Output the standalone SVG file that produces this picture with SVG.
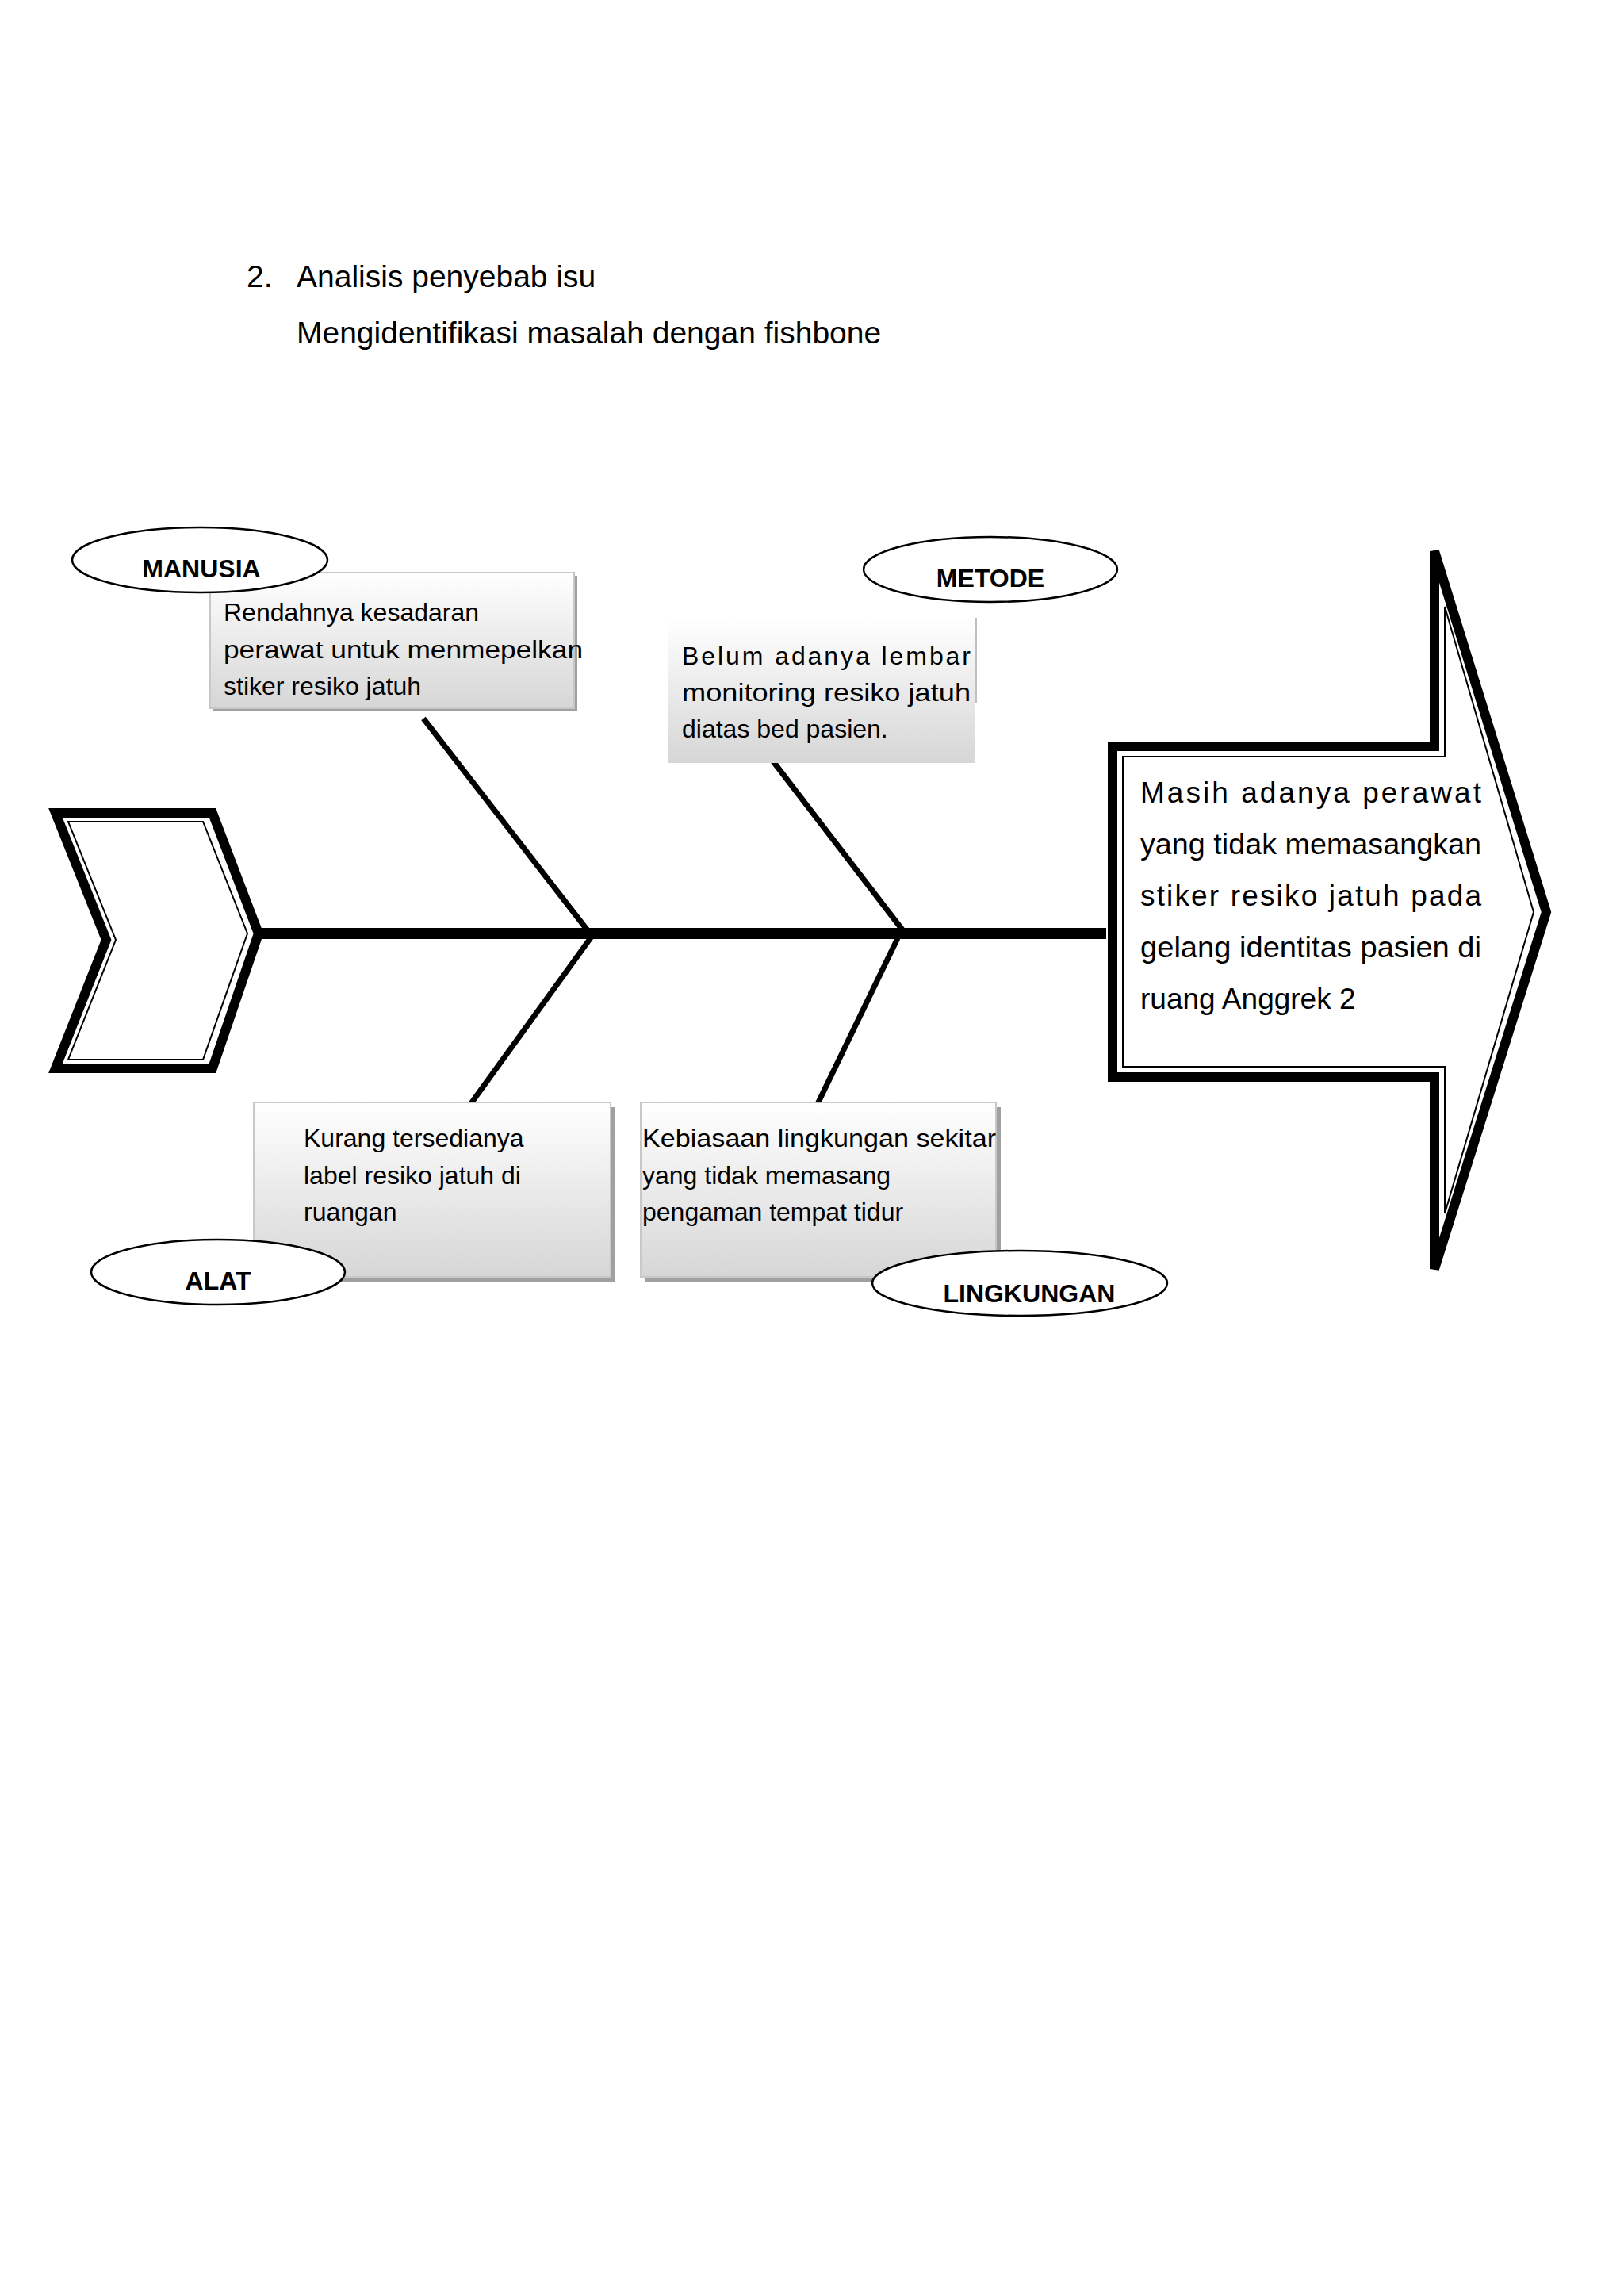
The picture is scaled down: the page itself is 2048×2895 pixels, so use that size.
<svg xmlns="http://www.w3.org/2000/svg" width="2048" height="2895" viewBox="0 0 2048 2895">
<defs>
<linearGradient id="g" x1="0" y1="0" x2="0" y2="1"><stop offset="0" stop-color="#ffffff"/><stop offset="1" stop-color="#d6d6d6"/></linearGradient>
</defs>
<style>
.t{font-family:"Liberation Sans",Arial,sans-serif;font-size:32px;fill:#000}
.h{font-family:"Liberation Sans",Arial,sans-serif;font-size:39px;fill:#000}
.b{font-family:"Liberation Sans",Arial,sans-serif;font-size:32px;font-weight:bold;fill:#000;text-anchor:middle}
.a{font-family:"Liberation Sans",Arial,sans-serif;font-size:37px;fill:#000}
.box{fill:url(#g);stroke:#c8c8c8;stroke-width:2}
.sh{fill:#a0a0a0}
.el{fill:#fff;stroke:#000;stroke-width:2.5}
.bone{stroke:#000;stroke-width:7;fill:none}
</style>
<rect width="2048" height="2895" fill="#fff"/>
<text class="h" x="311" y="362">2.</text>
<text class="h" x="374" y="362">Analisis penyebab isu</text>
<text class="h" x="374" y="433">Mengidentifikasi masalah dengan fishbone</text>
<g id="connectors">
<line x1="325" y1="1177" x2="1395" y2="1177" stroke="#000" stroke-width="14"/>
<line class="bone" x1="534" y1="906" x2="744" y2="1177"/>
<line class="bone" x1="746" y1="1181" x2="592" y2="1394"/>
<line class="bone" x1="975" y1="960" x2="1140" y2="1175"/>
<line class="bone" x1="1132" y1="1183" x2="1030" y2="1394"/>
</g>
<g id="tail">
<polygon points="70,1025 268,1025 326,1177 268,1347 70,1347 134,1185" fill="#fff" stroke="#000" stroke-width="12" stroke-linejoin="miter"/>
<polygon points="86,1036 256,1036 312,1177 256,1336 86,1336 146,1185" fill="none" stroke="#000" stroke-width="2"/>
</g>
<g id="effect">
<polygon points="1403,941 1809,941 1809,695 1950,1150 1809,1600 1809,1358 1403,1358" fill="#fff" stroke="#000" stroke-width="12"/>
<polygon points="1416,954 1822,954 1822,765 1934,1150 1822,1530 1822,1345 1416,1345" fill="none" stroke="#000" stroke-width="2"/>
<text class="a" x="1438" y="1012" textLength="430" lengthAdjust="spacing">Masih   adanya   perawat</text>
<text class="a" x="1438" y="1077" textLength="430" lengthAdjust="spacingAndGlyphs">yang tidak memasangkan</text>
<text class="a" x="1438" y="1142" textLength="430" lengthAdjust="spacing">stiker  resiko  jatuh  pada</text>
<text class="a" x="1438" y="1207" textLength="430" lengthAdjust="spacingAndGlyphs">gelang identitas pasien di</text>
<text class="a" x="1438" y="1272">ruang Anggrek 2</text>
</g>
<g id="manusia">
<rect class="sh" x="269" y="726" width="459" height="171"/>
<rect class="box" x="265" y="722" width="459" height="171"/>
<text class="t" x="282" y="783">Rendahnya kesadaran</text>
<text class="t" x="282" y="830" textLength="453" lengthAdjust="spacingAndGlyphs">perawat untuk menmepelkan</text>
<text class="t" x="282" y="876">stiker resiko jatuh</text>
<ellipse class="el" cx="252" cy="706" rx="161" ry="41"/>
<text class="b" x="254" y="728">MANUSIA</text>
</g>
<g id="metode">
<rect x="842" y="779" width="388" height="183" fill="url(#g)"/>
<line x1="1231" y1="779" x2="1231" y2="886" stroke="#c0c0c0" stroke-width="2"/>
<text class="t" x="860" y="838" textLength="364" lengthAdjust="spacing">Belum   adanya   lembar</text>
<text class="t" x="860" y="884" textLength="364" lengthAdjust="spacingAndGlyphs">monitoring resiko jatuh</text>
<text class="t" x="860" y="930">diatas bed pasien.</text>
<ellipse class="el" cx="1249" cy="718" rx="160" ry="41"/>
<text class="b" x="1249" y="740">METODE</text>
</g>
<g id="alat">
<rect class="sh" x="326" y="1396" width="450" height="220"/>
<rect class="box" x="320" y="1390" width="450" height="220"/>
<text class="t" x="383" y="1446">Kurang tersedianya</text>
<text class="t" x="383" y="1493">label resiko jatuh di</text>
<text class="t" x="383" y="1539">ruangan</text>
<ellipse class="el" cx="275" cy="1604" rx="160" ry="41"/>
<text class="b" x="275" y="1626">ALAT</text>
</g>
<g id="lingkungan">
<rect class="sh" x="814" y="1396" width="448" height="220"/>
<rect class="box" x="808" y="1390" width="448" height="220"/>
<text class="t" x="810" y="1446" textLength="446" lengthAdjust="spacingAndGlyphs">Kebiasaan lingkungan sekitar</text>
<text class="t" x="810" y="1493">yang tidak memasang</text>
<text class="t" x="810" y="1539">pengaman tempat tidur</text>
<ellipse class="el" cx="1286" cy="1618" rx="186" ry="41"/>
<text class="b" x="1298" y="1642">LINGKUNGAN</text>
</g>
</svg>
